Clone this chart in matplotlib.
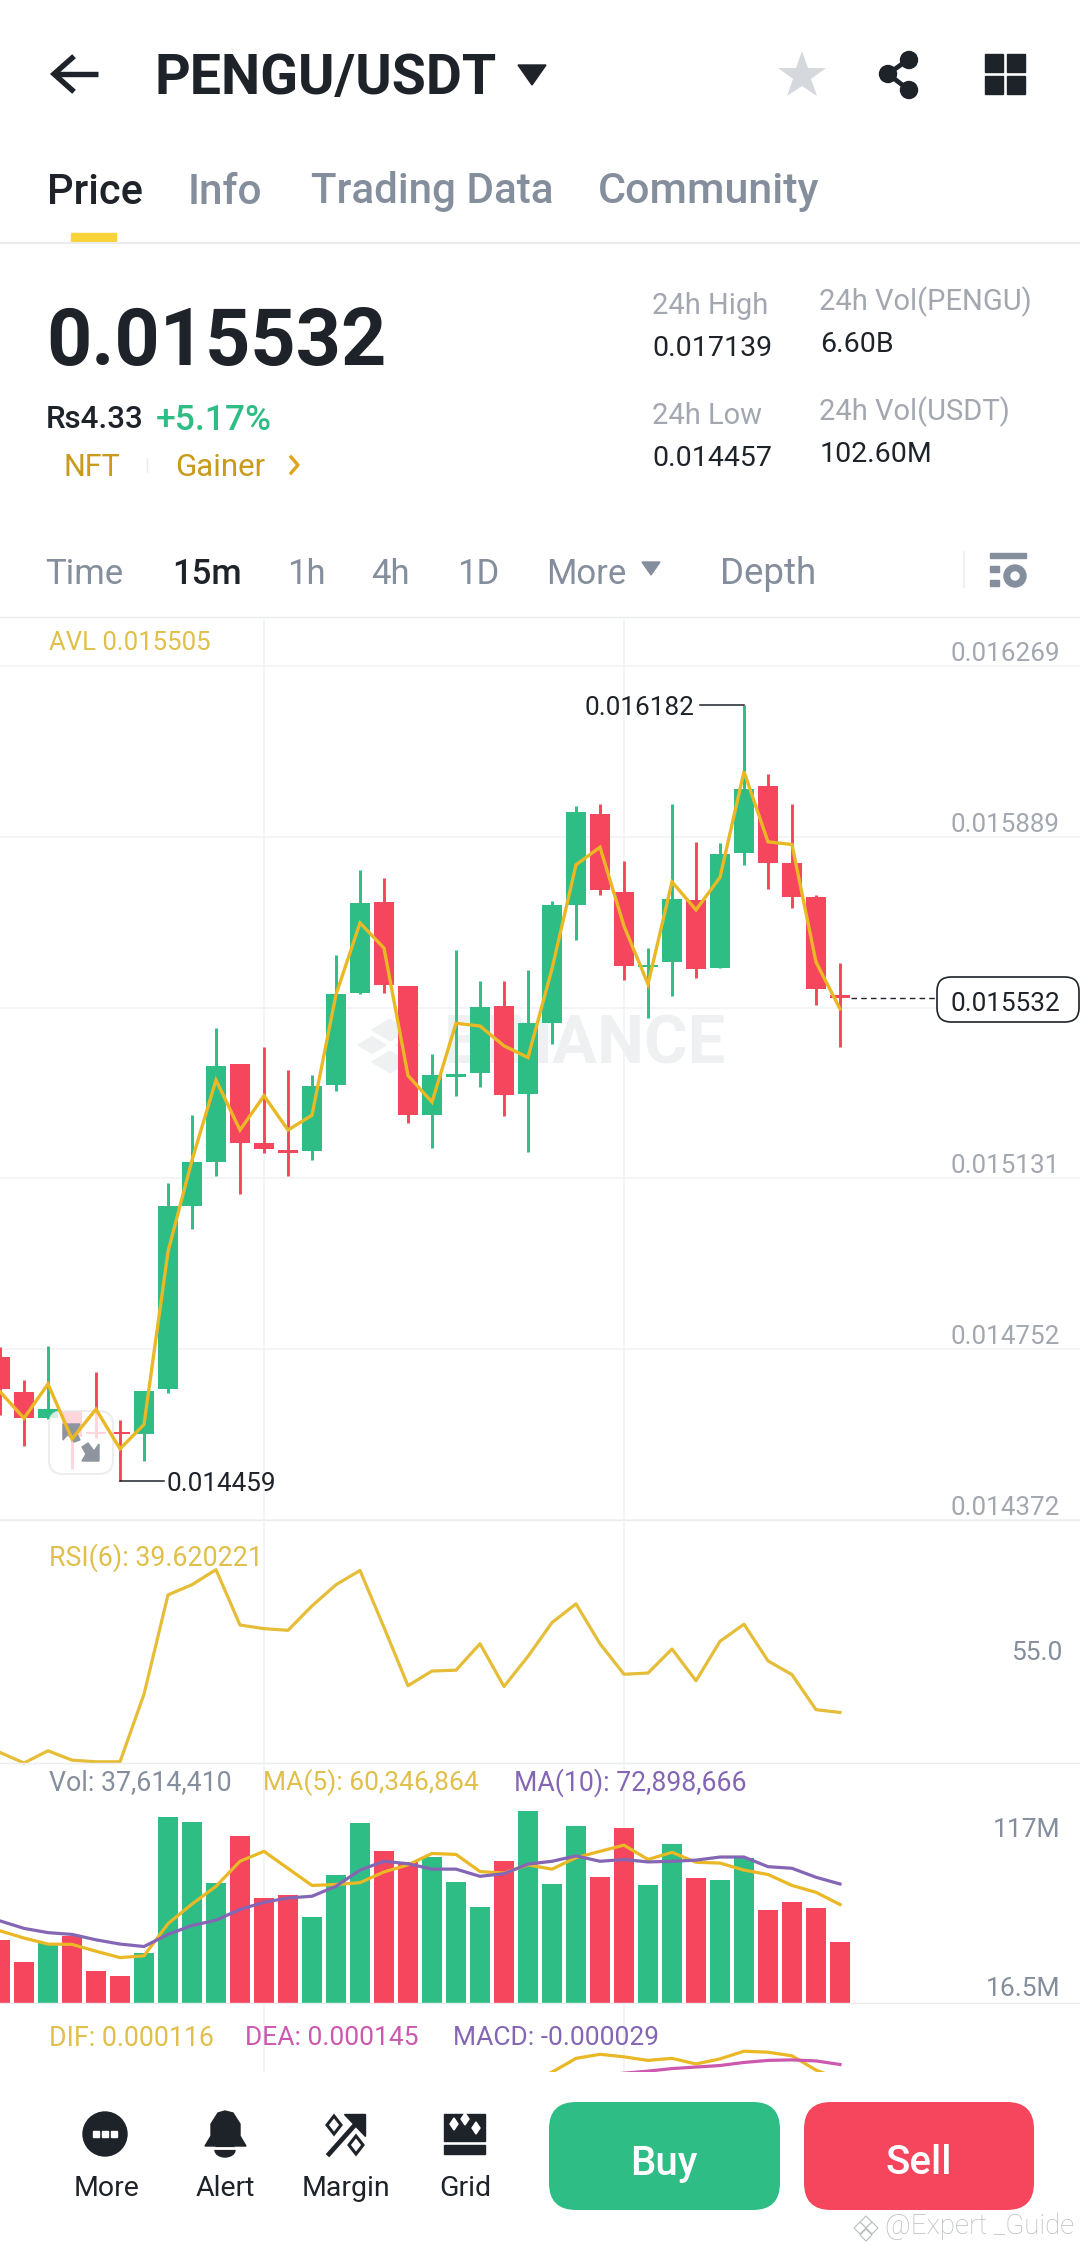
import matplotlib
matplotlib.use("Agg")
import matplotlib.pyplot as plt
from matplotlib.patches import FancyBboxPatch, Polygon, Circle, Rectangle, Ellipse
from matplotlib.transforms import Affine2D

plt.rcParams['font.family'] = ['Roboto', 'DejaVu Sans']

W, H = 1080, 2246

# candles, prices in millionths of USDT
opens = [14733, 14657, 14598, 14613, 14566, 14566, 14564, 14662, 15070, 15166, 15384, 15210,
         15194, 15191, 15337, 15543, 15745, 15558, 15271, 15356, 15365, 15514, 15317, 15475,
         15738, 15940, 15766, 15600, 15611, 15748, 15597, 15854, 16001, 15832, 15756, 15538]
closes = [14662, 14598, 14618, 14557, 14564, 14564, 14659, 15070, 15166, 15380, 15209, 15196,
          15188, 15336, 15541, 15743, 15560, 15271, 15360, 15362, 15511, 15315, 15475, 15737,
          15944, 15771, 15602, 15605, 15750, 15596, 15850, 15996, 15832, 15756, 15552, 15532]
highs = [14756, 14682, 14758, 14613, 14700, 14593, 14659, 15121, 15272, 15465, 15384, 15423,
         15371, 15361, 15626, 15816, 15798, 15558, 15407, 15637, 15568, 15568, 15594, 15747,
         15957, 15962, 15835, 15643, 15962, 15878, 15875, 16182, 16029, 15963, 15761, 15609]
lows = [14606, 14537, 14596, 14486, 14555, 14459, 14504, 14653, 15018, 15135, 15097, 15186,
        15136, 15171, 15324, 15539, 15543, 15253, 15197, 15313, 15333, 15270, 15190, 15428,
        15661, 15759, 15571, 15487, 15536, 15576, 15597, 15826, 15774, 15732, 15515, 15423]
price_line = [14657, 14598, 14674, 14552, 14618, 14530, 14584, 14968, 15171, 15349, 15238, 15314,
              15238, 15271, 15539, 15698, 15642, 15359, 15300, 15475, 15469, 15425, 15399, 15596,
              15827, 15866, 15691, 15562, 15789, 15727, 15799, 16034, 15878, 15872, 15611, 15507]
price_ticks = [16269, 15889, 15510, 15131, 14752, 14372]
price_tick_labels = ['0.016269', '0.015889', '', '0.015131', '0.014752', '0.014372']

rsi = [29.8, 27.2, 30.2, 27.9, 27.5, 27.5, 44.1, 68.5, 71.0, 74.7, 61.1, 60.2,
       59.8, 65.8, 71.0, 74.5, 60.5, 46.2, 49.8, 50.0, 56.5, 46.0, 53.4, 61.7,
       66.3, 56.5, 49.0, 49.3, 55.2, 47.4, 57.1, 61.3, 52.3, 48.9, 40.3, 39.62]

# volume in millions
volume = [38.5, 24.9, 36.5, 40.9, 19.5, 16.4, 30.4, 114.2, 111.1, 73.7, 102.1, 64.3,
          66.0, 52.7, 78.1, 110.2, 93.4, 86.2, 89.7, 74.1, 58.6, 87.0, 117.4, 72.6,
          108.7, 77.0, 107.2, 72.0, 97.5, 76.5, 75.5, 89.0, 56.9, 61.7, 58.0, 37.6]
vol_ma5 = [44.2, 39.8, 36.1, 35.9, 31.7, 27.8, 28.9, 48.6, 60.6, 71.5, 86.8, 92.9,
           82.4, 72.0, 72.6, 73.7, 80.3, 84.6, 91.6, 91.0, 80.5, 79.6, 84.6, 82.0,
           89.0, 92.9, 96.7, 87.9, 92.3, 86.2, 85.7, 81.4, 78.7, 72.0, 67.8, 60.3]
vol_ma10 = [50.3, 45.7, 43.1, 42.0, 38.7, 36.1, 34.6, 42.0, 47.5, 50.7, 57.3, 61.7,
            64.3, 65.4, 71.5, 81.4, 86.8, 85.3, 82.0, 82.0, 77.6, 79.2, 85.1, 86.8,
            90.1, 86.8, 87.9, 86.4, 86.8, 87.5, 89.4, 89.4, 83.5, 82.5, 77.0, 72.9]

# macd panel only shows the top of both lines, in millionths
dif_x = list(range(22, 36))
dif = [109, 130, 157, 165, 160, 153, 157, 146, 156, 171, 169, 162, 134, 116]
dea_x = list(range(25, 36))
dea = [123, 128, 132, 137, 140, 143, 149, 153, 154, 152, 145]

GREEN = '#2ebd85'
RED = '#f6465d'
DARK = '#1e2329'
GREY = '#848e9c'
TICK_GREY = '#a3a8b0'
LINE = '#eaecef'
GRID = '#f1f2f4'
YELLOW = '#e9b824'
LABEL_YELLOW = '#e0bf4a'
PURPLE = '#8466b4'
PINK = '#cc58b0'

idx = list(range(len(opens)))
colors = [GREEN if c >= o else RED for o, c in zip(opens, closes)]

fig = plt.figure(figsize=(W / 100, H / 100), dpi=100, facecolor='white')


def panel(top, bottom):
    ax = fig.add_axes([0, 1 - bottom / H, 1, (bottom - top) / H], facecolor='none', zorder=2)
    ax.set_xlim(0, 45)
    ax.set_xticks([11, 26])
    ax.tick_params(length=0, labelbottom=False, labelleft=False)
    ax.grid(True, axis='x', color=GRID, lw=1.2)
    ax.set_axisbelow(True)
    for s in ['top', 'left', 'right']:
        ax.spines[s].set_visible(False)
    ax.spines['bottom'].set_color(LINE)
    ax.spines['bottom'].set_linewidth(1)
    return ax


# background layer, sits under the chart
bg = fig.add_axes([0, 0, 1, 1], zorder=0)
bg.set_xlim(0, W)
bg.set_ylim(H, 0)
bg.axis('off')

# top layer for the app chrome
ui = fig.add_axes([0, 0, 1, 1], zorder=5, facecolor='none')
ui.set_xlim(0, W)
ui.set_ylim(H, 0)
ui.axis('off')


def label(x, y, s, size=20, color=DARK, ha='left', weight='normal', layer=None):
    # +3 because va center sits a little high on digits and capitals
    (layer or ui).text(x, y + 3, s, fontsize=size, color=color, ha=ha, va='center', fontweight=weight)


# --- watermark
label(444, 1043, 'BINANCE', size=48, color='#eff0f2', weight='bold', layer=bg)
for cx, cy, r in [(372, 1045, 14), (390, 1030, 18), (390, 1062, 18), (408, 1045, 12)]:
    bg.add_patch(Polygon([(cx - r, cy), (cx, cy - r * 0.6), (cx + r, cy), (cx, cy + r * 0.6)], color='#eff0f2'))

# --- price panel
ax = panel(620, 1520)
ax.set_ylim(14380, 16370.6)
ax.set_yticks(price_ticks)
ax.grid(True, axis='y', color=GRID, lw=1.2)
for i in idx:
    ax.vlines(i, lows[i], highs[i], color=colors[i], lw=2.1, zorder=2)
    bottom = min(opens[i], closes[i])
    height = max(abs(opens[i] - closes[i]), 4)
    ax.bar(i, height, bottom=bottom, width=0.87, color=colors[i], zorder=2)
ax.plot(idx, price_line, color=YELLOW, lw=2.4, zorder=4, solid_joinstyle='miter')
ax.set_xlim(0, 45)
for val, txt in zip(price_ticks, price_tick_labels):
    ax.annotate(txt, xy=(1, val), xycoords=('axes fraction', 'data'), xytext=(-20, 12),
                textcoords='offset pixels', ha='right', va='center', fontsize=18.7,
                color=TICK_GREY, annotation_clip=False)

# high and low markers
top_i = highs.index(max(highs))
low_i = lows.index(min(lows))
ax.plot([top_i - 1.85, top_i], [highs[top_i]] * 2, color=DARK, lw=1.1, zorder=3)
ax.plot([low_i, low_i + 1.85], [lows[low_i]] * 2, color=DARK, lw=1.1, zorder=3)
ax.annotate('0.016182', xy=(top_i - 2.08, highs[top_i]), xytext=(0, -3), textcoords='offset pixels',
            ha='right', va='center', fontsize=18.8, color=DARK)
ax.annotate('0.014459', xy=(low_i + 1.92, lows[low_i]), xytext=(0, -3), textcoords='offset pixels',
            ha='left', va='center', fontsize=18.8, color=DARK, annotation_clip=False)

# last price
last = closes[-1]
ax.plot([35.45, 39.05], [last, last], color=DARK, lw=1, ls=(0, (4, 3)), zorder=3)
ui.add_patch(FancyBboxPatch((937, 977), 142, 45, boxstyle='round,pad=0,rounding_size=14',
                            fc='white', ec=DARK, lw=1.2))
label(1060, 1001, '0.015532', size=18.8, ha='right')

# floating scale button, fades the candles under it but not the line
px = Affine2D().scale(1, -1).translate(0, H)
ax.add_patch(FancyBboxPatch((49, 1411), 64, 63, boxstyle='round,pad=0,rounding_size=14', fc='white',
                            ec='#e6e8ea', lw=1.5, alpha=0.78, transform=px, zorder=3))
ax.add_patch(Polygon([(63, 1424), (80, 1424), (76, 1432), (80, 1440), (74, 1442), (68, 1434), (63, 1440)],
                     color='#8f959e', transform=px, zorder=3.5))
ax.add_patch(Polygon([(99, 1461), (82, 1461), (86, 1454), (82, 1447), (88, 1443), (94, 1451), (99, 1444)],
                     color='#8f959e', transform=px, zorder=3.5))

label(49, 640, 'AVL 0.015505', size=18.5, color=LABEL_YELLOW)

# --- rsi panel
ax_rsi = panel(1520, 1763)
ax_rsi.set_ylim(27.2, 86.9)
ax_rsi.plot(idx, rsi, color='#e6bd38', lw=2.3, clip_on=False)
ax_rsi.set_xlim(0, 45)
ax_rsi.annotate('55.0', xy=(1, 55), xycoords=('axes fraction', 'data'), xytext=(-18, -3),
                textcoords='offset pixels', ha='right', va='center', fontsize=19, color=GREY)
label(49, 1555, 'RSI(6): 39.620221', size=19.3, color=LABEL_YELLOW)

# --- volume panel
ax_vol = panel(1763, 2003)
ax_vol.set_ylim(0, 147)
ax_vol.bar(idx, volume, width=0.87, color=colors)
ax_vol.plot(idx, vol_ma5, color=YELLOW, lw=2.3)
ax_vol.plot(idx, vol_ma10, color=PURPLE, lw=2.3)
ax_vol.set_xlim(0, 45)
label(49, 1780, 'Vol: 37,614,410', size=19.3, color=GREY)
label(263, 1780, 'MA(5): 60,346,864', size=19, color=LABEL_YELLOW)
label(514, 1780, 'MA(10): 72,898,666', size=19.2, color=PURPLE)
label(1060, 1827, '117M', size=19, color=GREY, ha='right')
label(1060, 1986, '16.5M', size=19, color=GREY, ha='right')

# --- macd panel
ax_macd = panel(2003, 2072)
ax_macd.set_ylim(130.3, 265.4)
ax_macd.spines['bottom'].set_visible(False)
ax_macd.plot(dif_x, dif, color=YELLOW, lw=2.3)
ax_macd.plot(dea_x, dea, color=PINK, lw=2.3)
ax_macd.set_xlim(0, 45)
label(49, 2035, 'DIF: 0.000116', size=19.3, color=LABEL_YELLOW)
label(245, 2035, 'DEA: 0.000145', size=19, color=PINK)
label(453, 2035, 'MACD: -0.000029', size=19, color=PURPLE)

# --- header
ui.plot([98, 56], [74, 74], color=DARK, lw=3.9, solid_capstyle='butt')
ui.plot([72, 54, 72], [58, 74, 90], color=DARK, lw=3.9, solid_joinstyle='miter')
label(155, 76, 'PENGU/USDT', size=40, weight='bold')
ui.add_patch(Polygon([(518, 65), (546, 65), (532, 85)], color=DARK))
ui.plot(802, 76, marker='*', ms=36, color='#d5d8dc', mew=0)
ui.plot([909, 888, 909], [59, 74, 90], color=DARK, lw=3.4)
for cx, cy in [(909, 60), (888, 74), (909, 90)]:
    ui.add_patch(Circle((cx, cy), 8.5, color=DARK))
for x0, y0 in [(985, 54), (1007, 54), (985, 76), (1007, 76)]:
    ui.add_patch(Rectangle((x0, y0), 18, 18, color=DARK))

# tabs
label(47, 189, 'Price', size=30, weight='medium')
label(188, 189, 'Info', size=30.5, color=GREY, weight='medium')
label(311, 189, 'Trading Data', size=30.3, color=GREY, weight='medium')
label(598, 189, 'Community', size=31, color=GREY, weight='medium')
ui.add_patch(Rectangle((71, 233), 45, 9, color='#f8d33a'))
ui.plot([0, W], [243, 243], color=LINE, lw=1.5)

# price block
label(46, 341, '0.015532', size=57, weight='bold')
label(46, 417, 'Rs4.33', size=22.5, weight='medium')
label(156, 417, '+5.17%', size=25.5, color=GREEN, weight='medium')
label(63, 465, 'NFT', size=22, color='#c99a1c')
label(175, 465, 'Gainer', size=22.5, color='#c99a1c')
ui.plot([147, 147], [458, 472], color=LINE, lw=1)
ui.plot([291, 298, 291], [457, 465, 473], color='#dca51c', lw=2.4)

label(652, 303, '24h High', size=21, color=TICK_GREY)
label(652, 346, '0.017139', size=20.5)
label(652, 413, '24h Low', size=21, color=TICK_GREY)
label(652, 456, '0.014457', size=20.5)
label(819, 299, '24h Vol(PENGU)', size=21, color=TICK_GREY)
label(820, 342, '6.60B', size=20.5)
label(819, 409, '24h Vol(USDT)', size=21, color=TICK_GREY)
label(820, 452, '102.60M', size=20.5)

# interval row
label(45, 571, 'Time', size=25, color=GREY)
label(172, 571, '15m', size=25, weight='medium')
label(287, 571, '1h', size=25, color=GREY)
label(371, 571, '4h', size=25, color=GREY)
label(457, 571, '1D', size=25, color=GREY)
label(546, 571, 'More', size=25, color=GREY)
ui.add_patch(Polygon([(642, 562), (660, 562), (651, 575)], color=GREY))
label(720, 571, 'Depth', size=26.5, color=GREY)
ui.plot([964, 964], [552, 587], color=LINE, lw=1.2)
ui.add_patch(Rectangle((990, 553), 36, 5, color=GREY))
ui.add_patch(Rectangle((990, 566), 9, 6, color=GREY))
ui.add_patch(Rectangle((990, 580), 9, 6, color=GREY))
ui.add_patch(Circle((1015, 576), 11, color=GREY))
ui.add_patch(Circle((1015, 576), 4, color='white'))
ui.plot([0, W], [617, 617], color=LINE, lw=1)

# --- bottom bar
ui.add_patch(Circle((105, 2134), 22, color=DARK))
for x0 in [93, 102, 111]:
    ui.add_patch(Rectangle((x0, 2131), 6, 6, color='white'))
ui.add_patch(Polygon([(205, 2146), (211, 2136), (211, 2124), (218, 2113), (225, 2111), (233, 2113),
                      (240, 2124), (240, 2136), (246, 2146)], color=DARK))
ui.add_patch(Ellipse((225, 2150), 20, 14, color=DARK))
ui.plot([205, 246], [2148, 2148], color='white', lw=2)
ui.plot([329, 362], [2154, 2117], color=DARK, lw=3.4)
ui.add_patch(Polygon([(344, 2114), (365, 2114), (365, 2136)], color=DARK))
for cx, cy in [(334, 2125), (356, 2145)]:
    ui.add_patch(Polygon([(cx - 7, cy), (cx, cy - 9), (cx + 7, cy), (cx, cy + 9)], fc='white', ec=DARK, lw=2.2))
ui.add_patch(Rectangle((444, 2114), 41, 27, color=DARK))
ui.add_patch(Rectangle((444, 2145), 41, 9, color=DARK))
for cx, cy in [(454, 2124), (465, 2119), (476, 2128)]:
    ui.add_patch(Polygon([(cx - 4, cy), (cx, cy - 6), (cx + 4, cy), (cx, cy + 6)], color='white'))
for x0, txt in [(106, 'More'), (225, 'Alert'), (346, 'Margin'), (465, 'Grid')]:
    label(x0, 2186, txt, size=20.5, ha='center')

ui.add_patch(FancyBboxPatch((549, 2102), 231, 108, boxstyle='round,pad=0,rounding_size=27', fc=GREEN, ec='none'))
ui.add_patch(FancyBboxPatch((804, 2102), 230, 108, boxstyle='round,pad=0,rounding_size=27', fc=RED, ec='none'))
ui.text(664, 2164, 'Buy', fontsize=29, color='white', fontweight='medium', ha='center', va='center')
ui.text(919, 2163, 'Sell', fontsize=29, color='white', fontweight='medium', ha='center', va='center')

# corner watermark
label(885, 2224, '@Expert _Guide', size=20, color='#b9bcbf', weight='light')
for cx, cy in [(866, 2222), (860, 2228), (872, 2228), (866, 2235)]:
    ui.add_patch(Polygon([(cx - 6, cy), (cx, cy - 6), (cx + 6, cy), (cx, cy + 6)], fc='white', ec='#b9bcbf', lw=0.8))

fig.savefig('out.png', dpi=100)
